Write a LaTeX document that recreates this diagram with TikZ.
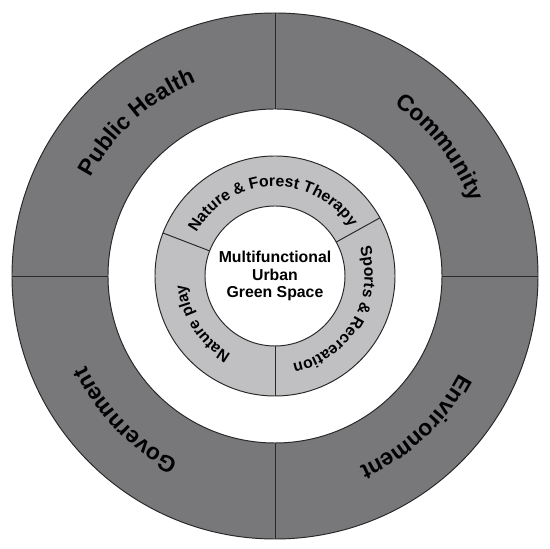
\documentclass[tikz,border=0pt]{standalone}
\usepackage{fontspec}
\setmainfont{Liberation Sans}
\usetikzlibrary{decorations.text}

\definecolor{outerfill}{RGB}{120,120,123}
\definecolor{innerfill}{RGB}{192,192,195}
\definecolor{edge}{RGB}{40,40,40}

\begin{document}
\begin{tikzpicture}[
  divider/.style={draw=edge, line width=0.55pt},
  bigtext/.style={decorate, decoration={text along path, text align=center,
    text={|\bfseries\fontsize{13}{15}\selectfont|#1}}},
  smalltext/.style={decorate, decoration={text along path, text align=center,
    text={|\bfseries\fontsize{9}{10}\selectfont|#1}}}
]
\useasboundingbox (-5.50,-5.46) rectangle (5.50,5.52);

\def\ro{5.26}
\def\ri{3.34}
\def\mo{2.40}
\def\mi{1.40}
\def\rb{4.18}
\def\sb{1.79}

% Outer ring: four sectors.
\fill[outerfill, even odd rule] (0,0) circle (\ro) (0,0) circle (\ri);
\draw[divider] (0,0) circle (\ro) (0,0) circle (\ri);
\foreach \a in {0,90,180,270}
  \draw[divider] (\a:\ri) -- (\a:\ro);

% Inner ring: three sectors.
\fill[innerfill, even odd rule] (0,0) circle (\mo) (0,0) circle (\mi);
\draw[divider] (0,0) circle (\mo) (0,0) circle (\mi);
\foreach \a in {29,159,270}
  \draw[divider] (\a:\mi) -- (\a:\mo);

% Outer labels.
\path[bigtext={Public Health}] (202:\rb) arc[start angle=202, end angle=62, radius=\rb];
\path[bigtext={Community}] (108:\rb) arc[start angle=108, end angle=-32, radius=\rb];
\path[bigtext={Environment}] (23:\rb) arc[start angle=23, end angle=-117, radius=\rb];
\path[bigtext={Government}] (-66:\rb) arc[start angle=-66, end angle=-206, radius=\rb];

% Inner labels.
\path[smalltext={Nature {\&} Forest Therapy}] (172:\sb) arc[start angle=172, end angle=12, radius=\sb];
\path[smalltext={Sports {\&} Recreation}] (50:\sb) arc[start angle=50, end angle=-110, radius=\sb];
\path[smalltext={Nature play}] (293:\sb) arc[start angle=293, end angle=133, radius=\sb];

% Centre.
\node[font=\bfseries\fontsize{9}{10}\selectfont, align=center] (hub) at (0,0)
  {Multifunctional\\Urban\\Green Space};

\end{tikzpicture}
\end{document}
